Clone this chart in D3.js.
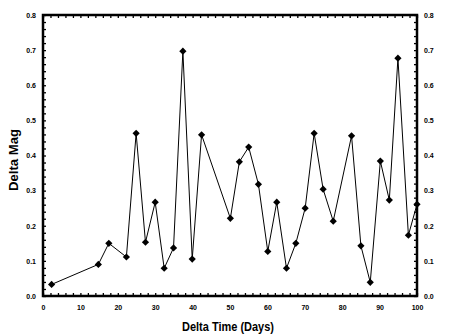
<!DOCTYPE html>
<html><head><meta charset="utf-8">
<script src="https://cdn.jsdelivr.net/npm/d3@7"></script>
<style>body{margin:0;background:#fff}svg{display:block}</style>
</head><body>
<svg id="c" width="450" height="336"></svg>
<script>
const days = [2.3,14.8,17.6,22.3,24.9,27.4,30.0,32.4,34.9,37.4,39.9,42.4,50.1,52.5,55.0,57.6,60.1,62.5,65.1,67.6,70.1,72.5,74.9,77.6,82.5,85.0,87.5,90.2,92.6,94.9,97.7,100.0];
const mags = [0.033,0.090,0.150,0.111,0.463,0.153,0.267,0.079,0.137,0.697,0.105,0.459,0.221,0.382,0.424,0.318,0.127,0.267,0.079,0.150,0.250,0.463,0.304,0.213,0.456,0.143,0.039,0.384,0.273,0.677,0.173,0.261];
const xTicks = [0,10,20,30,40,50,60,70,80,90,100];
const yTicks = [0.0,0.1,0.2,0.3,0.4,0.5,0.6,0.7,0.8];
const xLabel = "Delta Time (Days)";
const yLabel = "Delta Mag";

const svg = d3.select("#c");
const L=43, R=417, T=15, B=296;
const x = d3.scaleLinear().domain([0,100]).range([L,R]);
const y = d3.scaleLinear().domain([0,0.8]).range([B,T]);
const tickFont = "bold 7px 'Liberation Sans', Arial, sans-serif";
const titleFont = "bold 13px 'Liberation Sans', Arial, sans-serif";

function styleAxis(g){
  g.select(".domain").remove();
  g.selectAll("line").attr("stroke","#000").attr("stroke-width",1.3);
  g.selectAll("text").style("font",tickFont).attr("fill","#000");
}
const xMinor = d3.range(0,101,2);
const yMinor = d3.range(0,0.8001,0.02);

// minor ticks
const gB = svg.append("g").attr("transform",`translate(0,${B})`).call(d3.axisTop(x).tickValues(xMinor).tickSize(3).tickFormat(""));
styleAxis(gB);
const gT = svg.append("g").attr("transform",`translate(0,${T})`).call(d3.axisBottom(x).tickValues(xMinor).tickSize(3).tickFormat(""));
styleAxis(gT);
const gL = svg.append("g").attr("transform",`translate(${L},0)`).call(d3.axisRight(y).tickValues(yMinor).tickSize(3).tickFormat(""));
styleAxis(gL);
const gR = svg.append("g").attr("transform",`translate(${R},0)`).call(d3.axisLeft(y).tickValues(yMinor).tickSize(3).tickFormat(""));
styleAxis(gR);

// labels
const gBx = svg.append("g").attr("transform",`translate(0,${B})`).call(d3.axisBottom(x).tickValues(xTicks).tickSize(0).tickPadding(9).tickFormat(d3.format("d")));
styleAxis(gBx);
const gLy = svg.append("g").attr("transform",`translate(${L},0)`).call(d3.axisLeft(y).tickValues(yTicks).tickSize(0).tickPadding(7).tickFormat(d3.format(".1f")));
styleAxis(gLy);
const gRy = svg.append("g").attr("transform",`translate(${R},0)`).call(d3.axisRight(y).tickValues(yTicks).tickSize(0).tickPadding(7).tickFormat(d3.format(".1f")));
styleAxis(gRy);

// frame
svg.append("rect").attr("x",L).attr("y",T).attr("width",R-L).attr("height",B-T)
  .attr("fill","none").attr("stroke","#000").attr("stroke-width",2.5);

// line
const pts = days.map((d,i)=>[d,mags[i]]);
svg.append("path").datum(pts)
  .attr("d",d3.line().x(d=>x(d[0])).y(d=>y(d[1])))
  .attr("fill","none").attr("stroke","#000").attr("stroke-width",1);

const sym = d3.symbol().type(d3.symbolSquare).size(26);
svg.selectAll(".m").data(pts).enter().append("path")
  .attr("d",sym).attr("fill","#000")
  .attr("transform",d=>`translate(${x(d[0])},${y(d[1])}) rotate(45)`);

svg.append("text").attr("x",228).attr("y",331).attr("text-anchor","middle")
  .attr("textLength",92).attr("lengthAdjust","spacingAndGlyphs")
  .style("font",titleFont).text(xLabel);
svg.append("text").attr("transform",`translate(18,160) rotate(-90)`).attr("text-anchor","middle")
  .attr("textLength",62).attr("lengthAdjust","spacingAndGlyphs")
  .style("font",titleFont).text(yLabel);
</script>
</body></html>
